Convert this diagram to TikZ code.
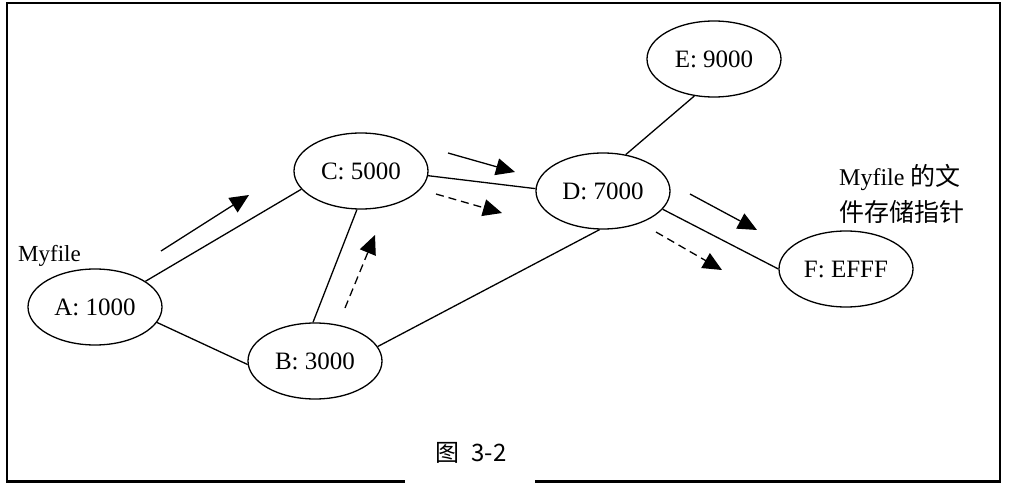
\documentclass[tikz,border=0pt]{standalone}
\usepackage{fontspec}
\setmainfont{Liberation Serif}
\newfontfamily\cjk{Noto Sans CJK SC}
\usetikzlibrary{arrows.meta,shapes.geometric}
\tikzset{
    elli/.style={draw,line width=1.3pt,ellipse,minimum width=134pt,minimum height=76pt,inner sep=0pt,font=\fontsize{25}{30}\selectfont},
    edge/.style={line width=1.3pt},
    flow/.style={line width=1.3pt,-{Triangle[length=19pt,width=17pt]}},
    flowd/.style={flow,dash pattern=on 8pt off 5pt}
}

\begin{document}
\begin{tikzpicture}[x=1pt,y=-1pt]
            \useasboundingbox (0,0) rectangle (1010,487);
            \draw [line width=1.5pt] (7,481) -- (7,3);
            \draw [line width=2.2pt] (6,3) -- (1001,3);
            \draw [line width=1.8pt] (1000,3) -- (1000,482);
            \draw [line width=3pt] (6,481) -- (405,481);
            \draw [line width=3pt] (535,481) -- (1001,481);
            \node [elli] (A) at (95,307) {A: 1000};
            \node [elli] (B) at (315,361) {B: 3000};
            \node [elli] (C) at (361,171) {C: 5000};
            \node [elli] (D) at (603,191) {D: 7000};
            \node [elli] (E) at (714,59) {E: 9000};
            \node [elli] (F) at (846,269) {F: EFFF};
            \draw [edge] (A.27) -- (C.197);
            \draw [edge] (A.-14) -- (B.183);
            \draw [edge] (B.93) -- (C.264);
            \draw [edge] (B.13) -- (D.265);
            \draw [edge] (C.-4) -- (D.178);
            \draw [edge] (D.58) -- (E.242);
            \draw [edge] (D.-17) -- (F.180);
            \coordinate (ac1) at (161,251);
            \coordinate (ac2) at (249,195);
            \coordinate (bc1) at (345,308);
            \coordinate (bc2) at (375,235);
            \coordinate (cd1) at (448,153);
            \coordinate (cd2) at (515,172);
            \coordinate (cd3) at (436,194);
            \coordinate (cd4) at (502,213);
            \coordinate (df1) at (690,194);
            \coordinate (df2) at (757,230);
            \coordinate (df3) at (656,232);
            \coordinate (df4) at (722,270);
            \foreach \s/\t in {ac1/ac2,cd1/cd2,df1/df2} {
                \draw [flow] (\s) -- (\t);
            }
            \foreach \s/\t in {bc1/bc2,cd3/cd4,df3/df4} {
                \draw [flowd] (\s) -- (\t);
            }
            \node [anchor=base west,inner sep=0pt,font=\fontsize{23}{28}\selectfont] (lbl) at (18,261) {Myfile};
            \node [anchor=north west,align=left,inner sep=0pt,font=\fontsize{24}{36}\selectfont] (ptr) at (839,164) {Myfile {\cjk\fontsize{25}{36}\selectfont 的文}\\{\cjk\fontsize{25}{36}\selectfont 件存储指针}};
            \node [font=\cjk\fontsize{24}{28}\selectfont] (cap) at (471,453) {图\hspace{12pt}3-2};
\end{tikzpicture}
\end{document}
